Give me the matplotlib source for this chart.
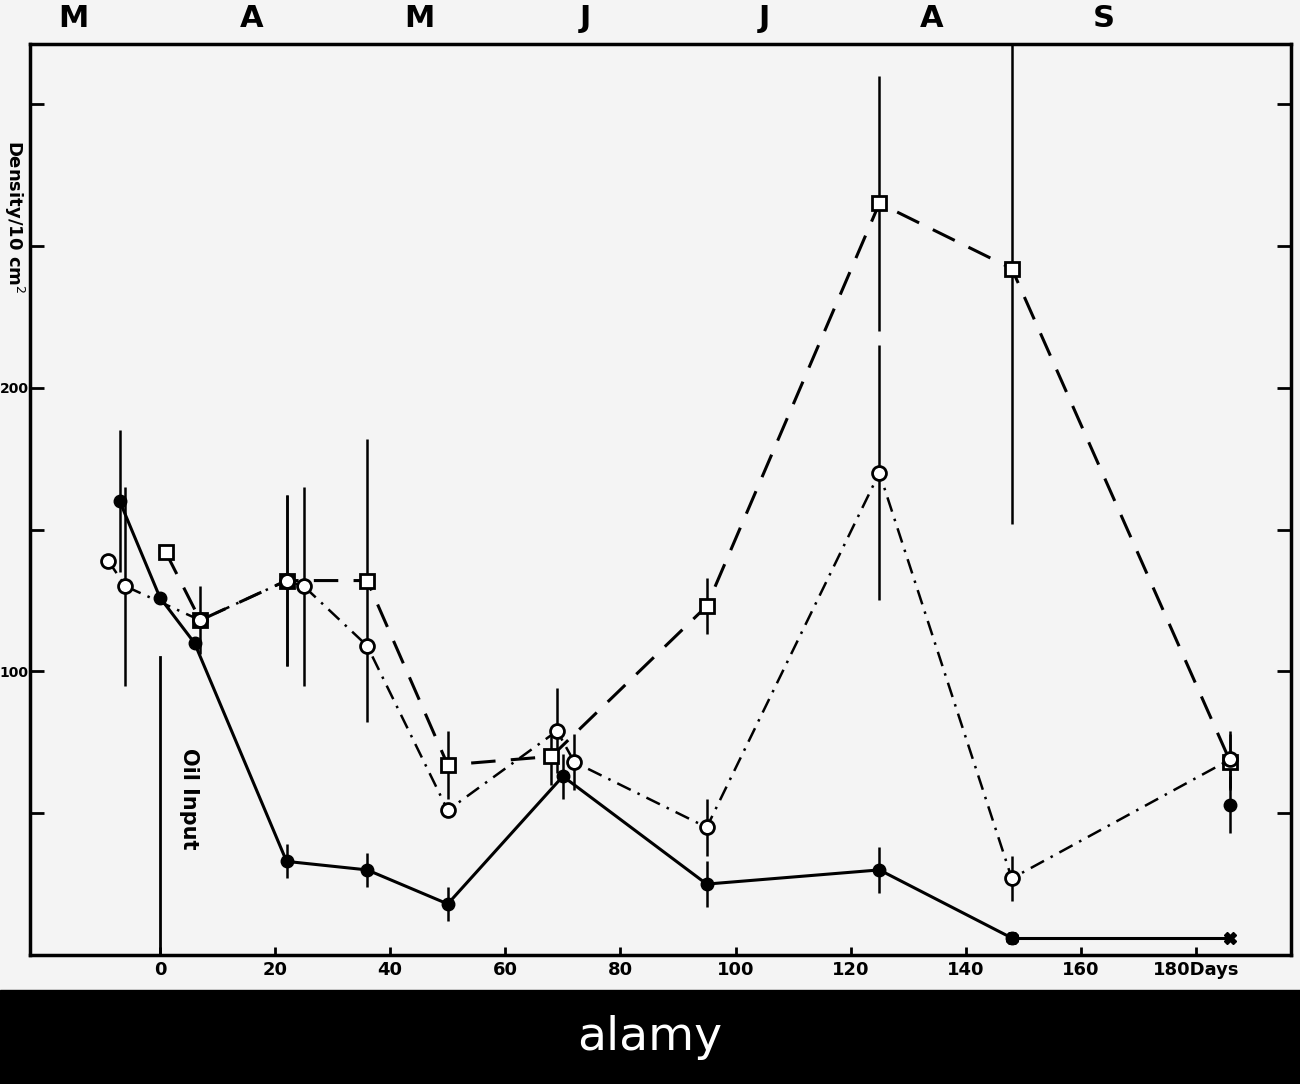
import matplotlib
matplotlib.use('agg')
import matplotlib.pyplot as plt
from matplotlib.patches import Rectangle
from matplotlib.transforms import blended_transform_factory

# filled circles, solid line
d_fill = [-7, 0, 6, 22, 36, 50, 70, 95, 125, 148]
v_fill = [160, 126, 110, 33, 30, 18, 63, 25, 30, 6]
e_fill = [25, 0, 0, 6, 6, 6, 8, 8, 8, 0]
d_x = [148, 186]
v_x = [6, 6]
d_last = [186]
v_last = [53]
e_last = [10]

# open circles, dash-dot line
d_circ = [-9, -6, 7, 22, 25, 36, 50, 69, 72, 95, 125, 148, 186]
v_circ = [139, 130, 118, 132, 130, 109, 51, 79, 68, 45, 170, 27, 69]
e_circ = [0, 35, 0, 30, 35, 0, 0, 15, 10, 10, 45, 8, 10]

# open squares, dashed line
d_sq = [1, 7, 22, 36, 50, 68, 95, 125, 148, 186]
v_sq = [142, 118, 132, 132, 67, 70, 123, 265, 242, 68]
e_sq = [0, 12, 30, 50, 12, 10, 10, 45, 90, 10]

months = ['M', 'A', 'M', 'J', 'J', 'A', 'S']
month_x = [-15, 16, 45, 74, 105, 134, 164]
xticks = [0, 20, 40, 60, 80, 100, 120, 140, 160, 180]
xlabels = ['0', '20', '40', '60', '80', '100', '120', '140', '160', '180Days']

fig = plt.figure(figsize=(13, 10.84), dpi=100)
fig.patch.set_facecolor('#f4f4f4')
ax = fig.add_axes([0.023, 0.119, 0.97, 0.84])
ax.set_facecolor('#f4f4f4')

k = 'black'
ax.errorbar(d_sq, v_sq, yerr=e_sq, color=k, ls=(0, (8, 5)), lw=2.2, marker='s',
            mfc='white', mec=k, ms=10, mew=2, elinewidth=1.8, capsize=0)
ax.errorbar(d_circ, v_circ, yerr=e_circ, color=k, ls=(0, (6, 3, 1, 3)), lw=1.8, marker='o',
            mfc='white', mec=k, ms=10, mew=2, elinewidth=1.8, capsize=0)
ax.errorbar(d_fill, v_fill, yerr=e_fill, color=k, ls='-', lw=2.2, marker='o',
            mfc=k, mec=k, ms=9, elinewidth=1.8, capsize=0)
ax.plot(d_x, v_x, color=k, lw=2.2, marker='X', ms=9)
ax.errorbar(d_last, v_last, yerr=e_last, color=k, marker='o', ms=9, elinewidth=1.8)

# oil input marker
ax.plot([0, 0], [0, 105], color=k, lw=2)
ax.text(5, 55, 'Oil Input', rotation=-90, fontsize=15, fontweight='bold', va='center', ha='center')

ax.set_xlim(-22.6, 196.5)
ax.set_ylim(0, 321)
ax.set_xticks(xticks)
ax.set_xticklabels(xlabels, fontsize=13, fontweight='bold')
ax.set_yticks([50, 100, 150, 200, 250, 300])
ax.set_yticklabels(['', '100', '', '200', '', ''], fontsize=10, fontweight='bold')
ax.tick_params(axis='y', direction='in', pad=1, length=10, width=2, right=True)
ax.tick_params(axis='x', direction='in', length=6, width=2, pad=4)
for s in ax.spines.values():
    s.set_linewidth(2.5)

fig.text(0.011, 0.8, 'Density/10 cm$^2$', rotation=-90, fontsize=13, fontweight='bold',
         va='center', ha='center')
trans = blended_transform_factory(ax.transData, fig.transFigure)
for m, x in zip(months, month_x):
    ax.text(x, 0.983, m, fontsize=22, fontweight='bold', ha='center', va='center',
            transform=trans)

fig.patches.append(Rectangle((0, 0), 1, 0.087, transform=fig.transFigure, color='black'))
fig.text(0.5, 0.043, 'alamy', color='white', fontsize=34, ha='center', va='center')

fig.savefig('out.png')
